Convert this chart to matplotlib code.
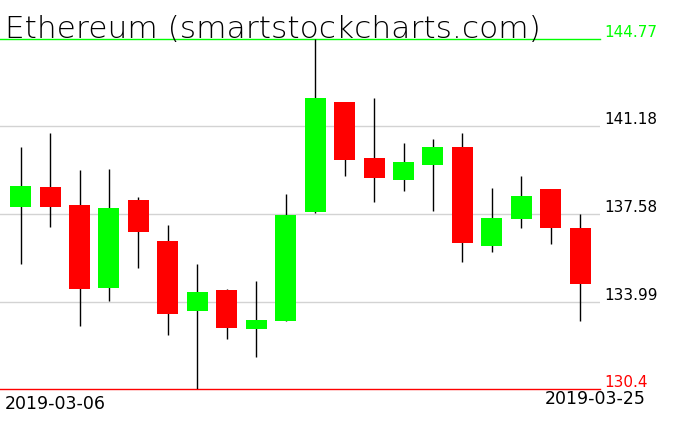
import numpy as np
import pandas as pd
import matplotlib
matplotlib.use("Agg")
import matplotlib.pyplot as plt

# ----------------------------------------------------------
# Data
# ----------------------------------------------------------

dates = pd.date_range("2019-03-06", "2019-03-25", freq="D").strftime("%Y-%m-%d").tolist()

opens = [137.89, 138.69, 137.95, 134.55, 138.16, 136.48, 133.61, 134.46, 132.88, 133.20,
         137.65, 142.18, 139.88, 138.98, 139.61, 140.35, 136.28, 137.38, 138.61, 137.01]
highs = [140.35, 140.91, 139.39, 139.43, 138.28, 137.13, 135.53, 134.51, 134.83, 138.41,
         144.77, 142.20, 142.35, 140.50, 140.66, 140.91, 138.65, 139.15, 138.62, 137.57]
lows = [135.53, 137.06, 133.00, 134.03, 135.38, 132.63, 130.40, 132.47, 131.73, 133.18,
        137.62, 139.16, 138.09, 138.54, 137.72, 135.63, 136.04, 137.02, 136.37, 133.20]
closes = [138.74, 137.89, 134.51, 137.83, 136.86, 133.49, 134.38, 132.92, 133.23, 137.54,
          142.35, 139.81, 139.08, 139.72, 140.34, 136.41, 137.42, 138.32, 137.02, 134.72]

price_max = 144.77
price_min = 130.4
grid_levels = [141.18, 137.58, 133.99]

W, H = 676, 431

# ----------------------------------------------------------
# Plotting
# ----------------------------------------------------------

fig = plt.figure(figsize=(W / 100, H / 100), dpi=100)
ax = fig.add_axes([0, (H - 390) / H, 600 / W, 350 / H])

x = np.arange(len(dates))
o = np.array(opens)
c = np.array(closes)
up = c >= o
colors = np.where(up, "#00ff00", "#ff0000")

ax.vlines(x, lows, highs, color="black", linewidth=1, zorder=2)
ax.bar(x, np.abs(c - o), bottom=np.minimum(o, c), width=0.713,
       color=colors, linewidth=0, zorder=3)

for lvl in grid_levels:
    ax.axhline(lvl, color="#d3d3d3", linewidth=1, zorder=1)
    ax.text(1.008, lvl, f"{lvl:.2f}", transform=ax.get_yaxis_transform(),
            ha="left", va="bottom", fontsize=11, color="black", clip_on=False)

ax.axhline(price_max, color="#00ff00", linewidth=1, zorder=1, clip_on=False)
ax.axhline(price_min, color="#ff0000", linewidth=1, zorder=1, clip_on=False)
ax.text(1.008, price_max, f"{price_max:.2f}", transform=ax.get_yaxis_transform(),
        ha="left", va="bottom", fontsize=11, color="#00ff00", clip_on=False)
ax.text(1.008, price_min, f"{price_min:g}", transform=ax.get_yaxis_transform(),
        ha="left", va="bottom", fontsize=11, color="#ff0000", clip_on=False)

ax.set_xlim(-0.70, 19.67)
ax.set_ylim(price_min, price_max)
ax.axis("off")

fig.text(5 / W, 1 - 38 / H, "Ethereum (smartstockcharts.com)", ha="left", va="baseline",
         fontsize=22.5, color="black", fontweight="light")
fig.text(5 / W, 1 - 395 / H, dates[0], ha="left", va="top", fontsize=12.5)
fig.text(646 / W, 1 - 390 / H, dates[-1], ha="right", va="top", fontsize=12.5)

fig.savefig("out.png", dpi=100)
